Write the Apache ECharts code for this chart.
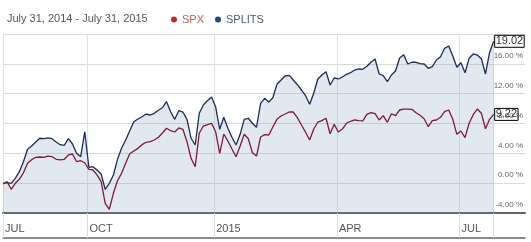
<!DOCTYPE html>
<html>
<head>
<meta charset="utf-8">
<script src="https://cdn.jsdelivr.net/npm/echarts@6/dist/echarts.min.js"></script>
<style>
html, body { margin: 0; padding: 0; background: #fff; }
#chart { width: 531px; height: 242px; }
</style>
</head>
<body>
<div id="chart"></div>
<script>
//数据区
var DAY = 86400000;
var startDate = Date.UTC(2014, 6, 31);
var stepDays = 3;

//SPLITS 累计收益 (%)
var splitsValues = [
	-0.02, 0.06, -0.02, 0.65, 1.54, 2.88, 4.54, 4.98, 5.52, 6.02,
	5.96, 6.06, 5.96, 5.52, 5.16, 5.08, 5.96, 5.25, 4.00, 3.55,
	6.90, 2.13, 2.21, 1.77, 1.23, -0.82, -0.02, 1.10, 3.20, 4.67,
	5.79, 7.03, 8.24, 8.60, 8.91, 9.27, 9.14, 9.37, 9.77, 10.12,
	10.92, 9.58, 8.56, 9.72, 9.54, 8.56, 6.02, 5.12, 9.37, 10.48,
	11.06, 11.55, 10.25, 7.22, 8.83, 7.36, 6.15, 5.12, 6.55, 8.56,
	8.70, 8.03, 7.49, 10.71, 11.38, 10.88, 11.46, 13.26, 13.83, 14.37,
	14.46, 13.83, 13.20, 12.49, 11.73, 10.57, 12.05, 13.97, 14.50, 14.95,
	13.16, 14.10, 13.97, 14.23, 14.60, 14.81, 15.17, 15.31, 15.27, 15.67,
	16.21, 16.65, 14.64, 14.41, 13.60, 14.50, 15.04, 16.78, 17.22, 15.98,
	16.21, 16.21, 16.02, 15.98, 15.40, 15.62, 16.51, 16.96, 18.08, 18.39,
	17.05, 15.54, 16.15, 14.81, 16.74, 17.32, 17.18, 16.69, 14.64, 17.49,
	19.02
];
//SPX 累计收益 (%)
var spxValues = [
	-0.11, 0.20, -0.82, -0.02, 0.52, 1.40, 2.66, 3.15, 3.47, 3.51,
	3.47, 3.64, 3.55, 3.20, 3.11, 3.20, 3.78, 3.91, 2.88, 3.01,
	2.74, 1.86, 1.77, 1.10, 0.20, -2.70, -3.50, -1.36, 0.33, 1.32,
	2.66, 3.95, 4.31, 4.67, 5.16, 5.48, 5.56, 5.79, 6.15, 6.73,
	7.36, 7.03, 6.86, 7.40, 7.22, 5.56, 3.33, 2.21, 6.69, 7.66,
	7.84, 8.03, 6.90, 4.00, 6.59, 5.65, 4.58, 3.55, 4.98, 6.55,
	5.96, 4.08, 3.64, 6.19, 6.50, 6.46, 7.53, 8.56, 9.01, 9.27,
	9.54, 9.54, 8.78, 7.80, 6.82, 5.79, 7.26, 8.20, 8.38, 8.70,
	6.63, 7.89, 6.86, 7.26, 8.03, 8.30, 8.47, 8.38, 8.34, 9.23,
	9.45, 9.31, 8.47, 9.05, 8.16, 9.31, 9.05, 9.81, 9.94, 9.94,
	9.90, 9.45, 9.10, 8.64, 7.57, 8.38, 8.47, 8.83, 9.58, 9.81,
	8.56, 6.55, 6.99, 6.10, 8.03, 9.18, 9.94, 9.37, 7.30, 8.56,
	9.22
];
//X轴刻度 (距 2014-07-31 的天数) 与 Y轴刻度
var xTickDays = [0, 62, 155, 245, 335, 360];
var monthNames = ['JAN', 'FEB', 'MAR', 'APR', 'MAY', 'JUN', 'JUL', 'AUG', 'SEP', 'OCT', 'NOV', 'DEC'];
var xMaxDays = 383;
var yMin = -4, yMax = 20, yStep = 4;

function pairs(vals) {
	var out = [];
	for (var i = 0; i < vals.length; i++) {
		out.push([i * stepDays, vals[i]]);
	}
	return out;
}

var myChart = echarts.init(document.getElementById('chart'));
var font = 'Liberation Sans, Arial, sans-serif';

var option = {
	animation: false,
	title: {
		text: 'July 31, 2014 - July 31, 2015',
		left: 2,
		top: 8,
		textStyle: { fontSize: 11, fontWeight: 'normal', color: '#555', fontFamily: font }
	},
	legend: {
		left: 166,
		top: 9,
		icon: 'circle',
		itemWidth: 6,
		itemHeight: 6,
		itemGap: 11,
		textStyle: { fontSize: 11, fontFamily: font },
		data: [
			{ name: 'SPX', itemStyle: { color: '#c4262b' }, textStyle: { color: '#b5665d' } },
			{ name: 'SPLITS', itemStyle: { color: '#1e4a78' }, textStyle: { color: '#4b5a70' } }
		]
	},
	grid: { left: 3, right: 6, top: 34, bottom: 29 },
	xAxis: [{
		type: 'value',
		min: 0,
		max: xMaxDays,
		axisLine: { onZero: false, lineStyle: { color: '#666', width: 2 } },
		axisTick: {
			customValues: xTickDays,
			length: 25,
			lineStyle: { color: '#dcdcdc' }
		},
		axisLabel: {
			customValues: xTickDays,
			align: 'left',
			margin: 10,
			padding: [0, 0, 0, 2],
			color: '#555',
			fontSize: 11,
			fontFamily: font,
			formatter: function (v) {
				if (v == 360) return '';
				var d = new Date(startDate + v * DAY);
				if (d.getUTCMonth() == 0) return String(d.getUTCFullYear());
				return monthNames[d.getUTCMonth()];
			}
		},
		splitLine: { show: true, lineStyle: { color: '#e2e2e2' } }
	}, {
		type: 'value',
		min: 0,
		max: xMaxDays,
		position: 'bottom',
		offset: 25,
		axisLine: { onZero: false, lineStyle: { color: '#666', width: 1.5 } },
		axisTick: { show: false },
		axisLabel: { show: false },
		splitLine: { show: false }
	}],
	yAxis: {
		type: 'value',
		position: 'right',
		min: yMin,
		max: yMax,
		interval: yStep,
		axisLine: { show: false },
		axisTick: { show: false },
		splitLine: { lineStyle: { color: '#dadada' } },
		axisLabel: {
			inside: true,
			margin: 2,
			showMaxLabel: false,
			verticalAlign: 'bottom',
			padding: [0, 0, 4, 0],
			color: '#666',
			fontSize: 8,
			fontFamily: 'Liberation Sans Narrow, Arial Narrow, sans-serif',
			formatter: function (v) { return v.toFixed(2) + ' %'; }
		}
	},
	series: [{
		name: 'SPLITS',
		type: 'line',
		symbol: 'none',
		data: pairs(splitsValues),
		lineStyle: { color: '#1c2d55', width: 1.3 },
		itemStyle: { color: '#1c2d55' },
		areaStyle: { color: 'rgba(120,145,180,0.3)', origin: 'start' },
		endLabel: {
			show: true,
			distance: 1,
			formatter: function (p) { return p.value[1].toFixed(2); },
			fontSize: 11,
			fontFamily: font,
			color: '#333',
			borderColor: '#000',
			borderWidth: 1,
			padding: [1, 1, 0, 1]
		}
	}, {
		name: 'SPX',
		type: 'line',
		symbol: 'none',
		data: pairs(spxValues),
		lineStyle: { color: '#7e1a3a', width: 1.3 },
		itemStyle: { color: '#7e1a3a' },
		endLabel: {
			show: true,
			distance: 1,
			formatter: function (p) { return p.value[1].toFixed(2); },
			fontSize: 11,
			fontFamily: font,
			color: '#333',
			borderColor: '#000',
			borderWidth: 1,
			padding: [1, 1, 0, 1]
		}
	}]
};
myChart.setOption(option);
</script>
</body>
</html>
